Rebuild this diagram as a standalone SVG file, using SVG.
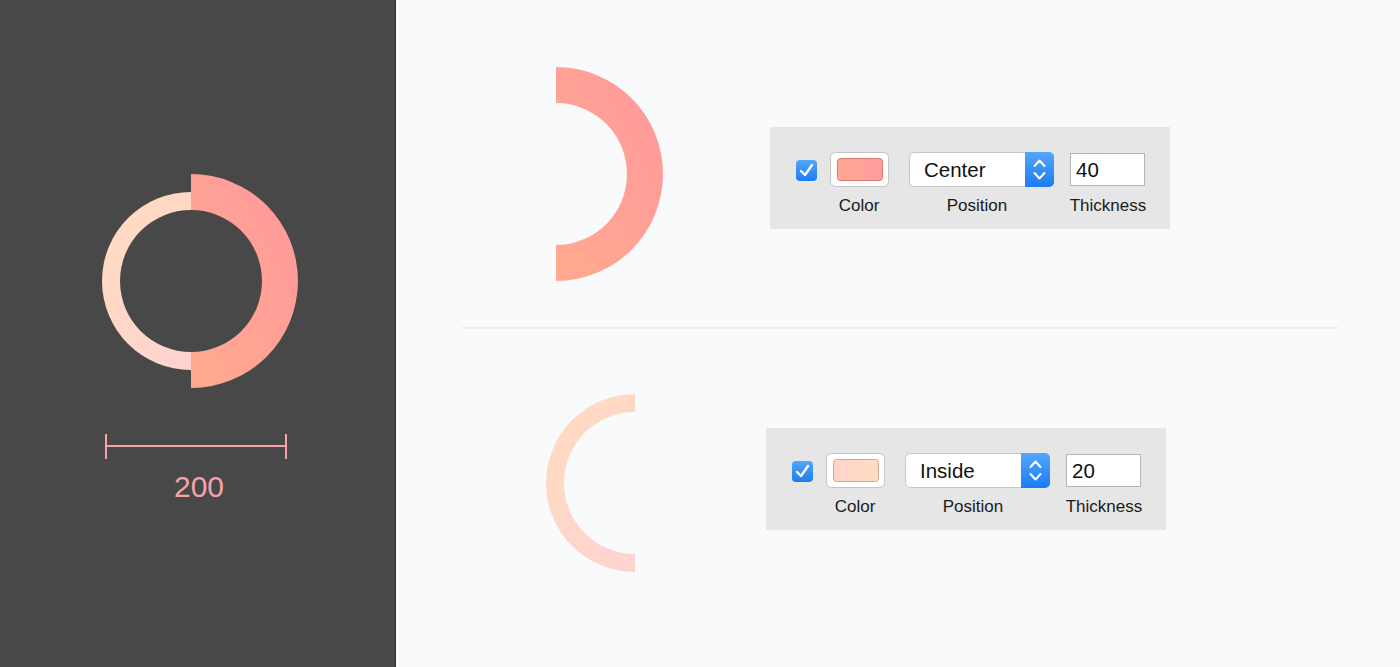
<svg xmlns="http://www.w3.org/2000/svg" width="1400" height="667" viewBox="0 0 1400 667">
<style>
  .lbl{font-family:"Liberation Sans",Arial,sans-serif;font-size:17px;fill:#1a1a1a;text-anchor:middle}
  .val{font-family:"Liberation Sans",Arial,sans-serif;font-size:20.5px;fill:#111}
  .panel{fill:#e6e6e6}
  .well{fill:#ffffff;stroke:#c4c4c4;stroke-width:1}
  .field{fill:#ffffff;stroke:#b5b5b5;stroke-width:1}
  .chk{fill:url(#blue)}
  .tick{fill:none;stroke:#fff;stroke-width:2.4;stroke-linecap:round;stroke-linejoin:round}
  .chev{fill:none;stroke:#fff;stroke-width:2;stroke-linecap:round;stroke-linejoin:round}
</style>
<defs>
  <linearGradient id="thick" x1="1" y1="0" x2="0" y2="1">
    <stop offset="0" stop-color="#ff999c"/>
    <stop offset="1" stop-color="#ffaa8f"/>
  </linearGradient>
  <linearGradient id="thin" x1="0" y1="0" x2="0.6" y2="1">
    <stop offset="0" stop-color="#ffdcc0"/>
    <stop offset="1" stop-color="#ffd4ce"/>
  </linearGradient>
  <linearGradient id="blue" x1="0" y1="0" x2="0" y2="1">
    <stop offset="0" stop-color="#52a6fb"/>
    <stop offset="1" stop-color="#1c7cf2"/>
  </linearGradient>
  <linearGradient id="sw1" x1="0" y1="0" x2="1" y2="0">
    <stop offset="0" stop-color="#ffa891"/>
    <stop offset="1" stop-color="#ff9d9d"/>
  </linearGradient>
  <linearGradient id="sw2" x1="0" y1="0" x2="1" y2="0">
    <stop offset="0" stop-color="#ffd4cc"/>
    <stop offset="1" stop-color="#ffdcc0"/>
  </linearGradient>
</defs>

<rect x="0" y="0" width="1400" height="667" fill="#f9fafc"/>
<rect x="0" y="0" width="396" height="667" fill="#484848"/>
<line x1="395.5" y1="0" x2="395.5" y2="667" stroke="#2e2e2e" stroke-width="1"/>

<g id="left-ring">
  <path d="M191,192 A89,89 0 0 0 191,370 L191,352 A71,71 0 0 1 191,210 Z" fill="url(#thin)"/>
  <path d="M191,174 A107,107 0 0 1 191,388 L191,352 A71,71 0 0 0 191,210 Z" fill="url(#thick)"/>
</g>

<g id="measure" stroke="#f5a3a9" stroke-width="2" fill="none">
  <line x1="106" y1="446" x2="286" y2="446"/>
  <line x1="106" y1="434" x2="106" y2="459"/>
  <line x1="286" y1="434" x2="286" y2="459"/>
  <text x="199" y="497" font-family="Liberation Sans, Arial, sans-serif" font-size="30" fill="#f4a3a8" stroke="none" text-anchor="middle">200</text>
</g>

<g id="top-arc">
  <path d="M556,67 A107,107 0 0 1 556,281 L556,245 A71,71 0 0 0 556,103 Z" fill="url(#thick)"/>
</g>

<line x1="462" y1="328" x2="1338" y2="328" stroke="#dcdde0" stroke-width="1"/>

<g id="bottom-arc">
  <path d="M635,394 A89,89 0 0 0 635,572 L635,554 A71,71 0 0 1 635,412 Z" fill="url(#thin)"/>
</g>

<g id="top-panel">
  <rect class="panel" x="770" y="127" width="400" height="102"/>
  <rect class="chk" x="796" y="160" width="21" height="21" rx="4"/>
  <path class="tick" d="M801,171 L805,175 L812,165"/>
  <rect class="well" x="830.5" y="152.5" width="58" height="34" rx="5"/>
  <rect x="837.5" y="158.5" width="45" height="22" rx="3" fill="url(#sw1)" stroke="#d9786f" stroke-width="1"/>
  <rect x="909.5" y="152.5" width="144" height="34" rx="5" fill="#fff" stroke="#c6c6c6"/>
  <path d="M1025,152 H1049 a5,5 0 0 1 5,5 V182 a5,5 0 0 1 -5,5 H1025 Z" fill="url(#blue)"/>
  <path class="chev" d="M1034.5,166 L1039.5,160.5 L1044.5,166"/>
  <path class="chev" d="M1034.5,173 L1039.5,178.5 L1044.5,173"/>
  <text class="val" x="924" y="177">Center</text>
  <rect class="field" x="1070.5" y="153.5" width="74" height="32"/>
  <text class="val" x="1076" y="177">40</text>
  <text class="lbl" x="859" y="211">Color</text>
  <text class="lbl" x="977" y="211">Position</text>
  <text class="lbl" x="1108" y="211">Thickness</text>
</g>

<g id="bottom-panel" transform="translate(-4,301)">
  <rect class="panel" x="770" y="127" width="400" height="102"/>
  <rect class="chk" x="796" y="160" width="21" height="21" rx="4"/>
  <path class="tick" d="M801,171 L805,175 L812,165"/>
  <rect class="well" x="830.5" y="152.5" width="58" height="34" rx="5"/>
  <rect x="837.5" y="158.5" width="45" height="22" rx="3" fill="url(#sw2)" stroke="#d3a697" stroke-width="1"/>
  <rect x="909.5" y="152.5" width="144" height="34" rx="5" fill="#fff" stroke="#c6c6c6"/>
  <path d="M1025,152 H1049 a5,5 0 0 1 5,5 V182 a5,5 0 0 1 -5,5 H1025 Z" fill="url(#blue)"/>
  <path class="chev" d="M1034.5,166 L1039.5,160.5 L1044.5,166"/>
  <path class="chev" d="M1034.5,173 L1039.5,178.5 L1044.5,173"/>
  <text class="val" x="924" y="177">Inside</text>
  <rect class="field" x="1070.5" y="153.5" width="74" height="32"/>
  <text class="val" x="1076" y="177">20</text>
  <text class="lbl" x="859" y="211">Color</text>
  <text class="lbl" x="977" y="211">Position</text>
  <text class="lbl" x="1108" y="211">Thickness</text>
</g>
</svg>
